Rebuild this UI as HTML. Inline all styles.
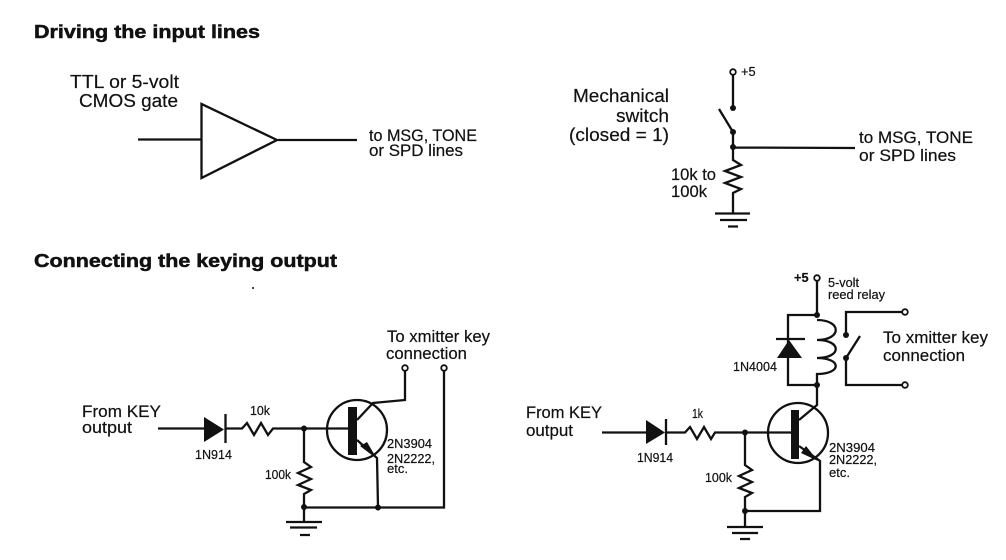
<!DOCTYPE html>
<html><head><meta charset="utf-8"><style>
html,body{margin:0;padding:0;background:#fff;width:1006px;height:560px;overflow:hidden}
svg{display:block;filter:blur(.35px)}
text{font-family:"Liberation Sans",sans-serif;fill:#111;stroke:#111;stroke-width:.2}
.h{font-size:18.5px;font-weight:bold;stroke-width:.5}
.m{font-size:16.5px}
.b{font-size:18px}
.s{font-size:12.8px}
.l{fill:none;stroke:#111;stroke-width:2.3;stroke-linejoin:miter}
.f{fill:#111;stroke:none}
.o{fill:#fff;stroke:#111;stroke-width:1.8}
</style></head><body>
<svg width="1006" height="560" viewBox="0 0 1006 560" xmlns="http://www.w3.org/2000/svg">
<text class="h" x="34" y="38" textLength="226" lengthAdjust="spacingAndGlyphs">Driving the input lines</text>
<text class="h" x="34" y="267" textLength="303" lengthAdjust="spacingAndGlyphs">Connecting the keying output</text>

<!-- Buffer -->
<path class="l" d="M138 139.500H201M278 140H357M201.500 104V178L277 140Z"/>
<text class="b" x="70" y="88" textLength="109" lengthAdjust="spacingAndGlyphs">TTL or 5-volt</text>
<text class="b" x="79" y="107" textLength="99" lengthAdjust="spacingAndGlyphs">CMOS gate</text>
<text class="m" x="369" y="141" textLength="108" lengthAdjust="spacingAndGlyphs">to MSG, TONE</text>
<text class="m" x="369" y="156" textLength="94" lengthAdjust="spacingAndGlyphs">or SPD lines</text>

<!-- Switch -->
<path class="l" d="M733 75V108M733 132V160L741 165L725 171L741 177L725 183L741 189L733 193V213M733 147.500L855 148M719 109L733 132"/>
<circle class="o" cx="733" cy="72" r="2.800"/>
<circle class="f" cx="733" cy="108" r="3"/><circle class="f" cx="733" cy="132" r="3"/><circle class="f" cx="733" cy="147" r="3"/>
<path class="l" d="M715 213.500H750M720 220H747M728 226.500H738"/>
<text class="s" x="741" y="76">+5</text>
<text class="b" x="573" y="102" textLength="96" lengthAdjust="spacingAndGlyphs">Mechanical</text>
<text class="b" x="616" y="122" textLength="53" lengthAdjust="spacingAndGlyphs">switch</text>
<text class="b" x="569" y="141" textLength="100" lengthAdjust="spacingAndGlyphs">(closed = 1)</text>
<text class="m" x="671" y="180" textLength="45" lengthAdjust="spacingAndGlyphs">10k to</text>
<text class="m" x="671" y="197" textLength="36" lengthAdjust="spacingAndGlyphs">100k</text>
<text class="m" x="859" y="143" textLength="114" lengthAdjust="spacingAndGlyphs">to MSG, TONE</text>
<text class="m" x="859" y="161" textLength="97" lengthAdjust="spacingAndGlyphs">or SPD lines</text>

<!-- Left keying circuit -->
<path class="l" d="M158 428.500H205M225 428.500H242L247 423L254 435L261 423L268 435L273 428.500H348M304 428.500V462L311 467L298 473L311 479L298 485L311 490L304 494V522M304 507.500H444V371M357 420L373 403L405 400V371M357 440L377 458L378 507"/>
<path class="f" d="M204 417V442L224 429.500Z"/>
<path class="l" d="M225.500 414V443"/>
<circle class="l" cx="357" cy="430" r="30"/>
<rect class="f" x="348" y="407" width="9" height="48"/>
<path class="f" d="M360 446L367 442L377 459Z"/>
<circle class="f" cx="304" cy="428.500" r="3"/><circle class="f" cx="304" cy="507" r="3"/><circle class="f" cx="378" cy="507.500" r="3"/>
<circle class="o" cx="405" cy="368" r="2.800"/><circle class="o" cx="444" cy="368" r="2.800"/>
<path class="l" d="M286 522H322M290 527.500H317M300 535H310"/>
<text class="m" x="82" y="417" textLength="79" lengthAdjust="spacingAndGlyphs">From KEY</text>
<text class="m" x="82" y="433" textLength="50" lengthAdjust="spacingAndGlyphs">output</text>
<text class="s" x="250" y="415" textLength="20" lengthAdjust="spacingAndGlyphs">10k</text>
<text class="s" x="195" y="459" textLength="37" lengthAdjust="spacingAndGlyphs">1N914</text>
<text class="s" x="265" y="479" textLength="26" lengthAdjust="spacingAndGlyphs">100k</text>
<text class="s" x="387" y="448" textLength="45" lengthAdjust="spacingAndGlyphs">2N3904</text>
<text class="s" x="387" y="463" textLength="48" lengthAdjust="spacingAndGlyphs">2N2222,</text>
<text class="s" x="387" y="473" textLength="21" lengthAdjust="spacingAndGlyphs">etc.</text>
<text class="m" x="387" y="342" textLength="103" lengthAdjust="spacingAndGlyphs">To xmitter key</text>
<text class="m" x="386" y="359" textLength="81" lengthAdjust="spacingAndGlyphs">connection</text>

<!-- Right keying circuit -->
<path class="l" d="M602 432.500H646M666 432.500H685L690 427L697 439L704 427L711 439L715 432.500H791M745 432.500V465L752 470L739 476L752 482L739 488L752 493L745 497V527M745 511H820V461L799 446M799 420L817 405V385M817 281V315M817 315H788V385H817M817 320C842 320 842 340 817 340C842 340 842 358 817 358C842 358 842 374 817 374V385"/>
<path class="f" d="M646 420V444L665 432.500Z"/>
<path class="l" d="M666 419V445"/>
<circle class="l" cx="798" cy="433" r="30"/>
<rect class="f" x="791" y="410" width="8" height="49"/>
<path class="f" d="M801 453L806 446L818 461Z"/>
<circle class="f" cx="745" cy="432.500" r="3"/><circle class="f" cx="745" cy="511" r="3"/><circle class="f" cx="817" cy="315" r="3"/><circle class="f" cx="817" cy="385" r="3"/>
<circle class="o" cx="817" cy="278" r="2.800"/>
<path class="l" d="M776 339H805"/>
<path class="f" d="M777 358H802L789 340Z"/>
<path class="l" d="M846 335V312H903M846 358V385H903M846 358L860 336"/>
<circle class="f" cx="846" cy="335" r="3"/><circle class="f" cx="846" cy="358" r="3"/>
<circle class="o" cx="905" cy="312" r="2.800"/><circle class="o" cx="905" cy="385" r="2.800"/>
<path class="l" d="M727 527H763M732 533H758M740 539H750"/>
<text class="s" x="794" y="282" font-weight="bold">+5</text>
<text class="s" x="828" y="287" textLength="31" lengthAdjust="spacingAndGlyphs">5-volt</text>
<text class="s" x="828" y="299" textLength="57" lengthAdjust="spacingAndGlyphs">reed relay</text>
<text class="s" x="733" y="371" textLength="44" lengthAdjust="spacingAndGlyphs">1N4004</text>
<text class="m" x="883" y="343" textLength="105" lengthAdjust="spacingAndGlyphs">To xmitter key</text>
<text class="m" x="883" y="361" textLength="82" lengthAdjust="spacingAndGlyphs">connection</text>
<text class="m" x="526" y="418" textLength="76" lengthAdjust="spacingAndGlyphs">From KEY</text>
<text class="m" x="526" y="436" textLength="47" lengthAdjust="spacingAndGlyphs">output</text>
<text class="s" x="692" y="418" textLength="11" lengthAdjust="spacingAndGlyphs">1k</text>
<text class="s" x="637" y="462" textLength="36" lengthAdjust="spacingAndGlyphs">1N914</text>
<text class="s" x="705" y="482" textLength="27" lengthAdjust="spacingAndGlyphs">100k</text>
<text class="s" x="829" y="452" textLength="46" lengthAdjust="spacingAndGlyphs">2N3904</text>
<text class="s" x="829" y="464" textLength="48" lengthAdjust="spacingAndGlyphs">2N2222,</text>
<text class="s" x="829" y="477" textLength="21" lengthAdjust="spacingAndGlyphs">etc.</text>
<circle class="f" cx="253" cy="288" r="1"/>
</svg>
</body></html>
